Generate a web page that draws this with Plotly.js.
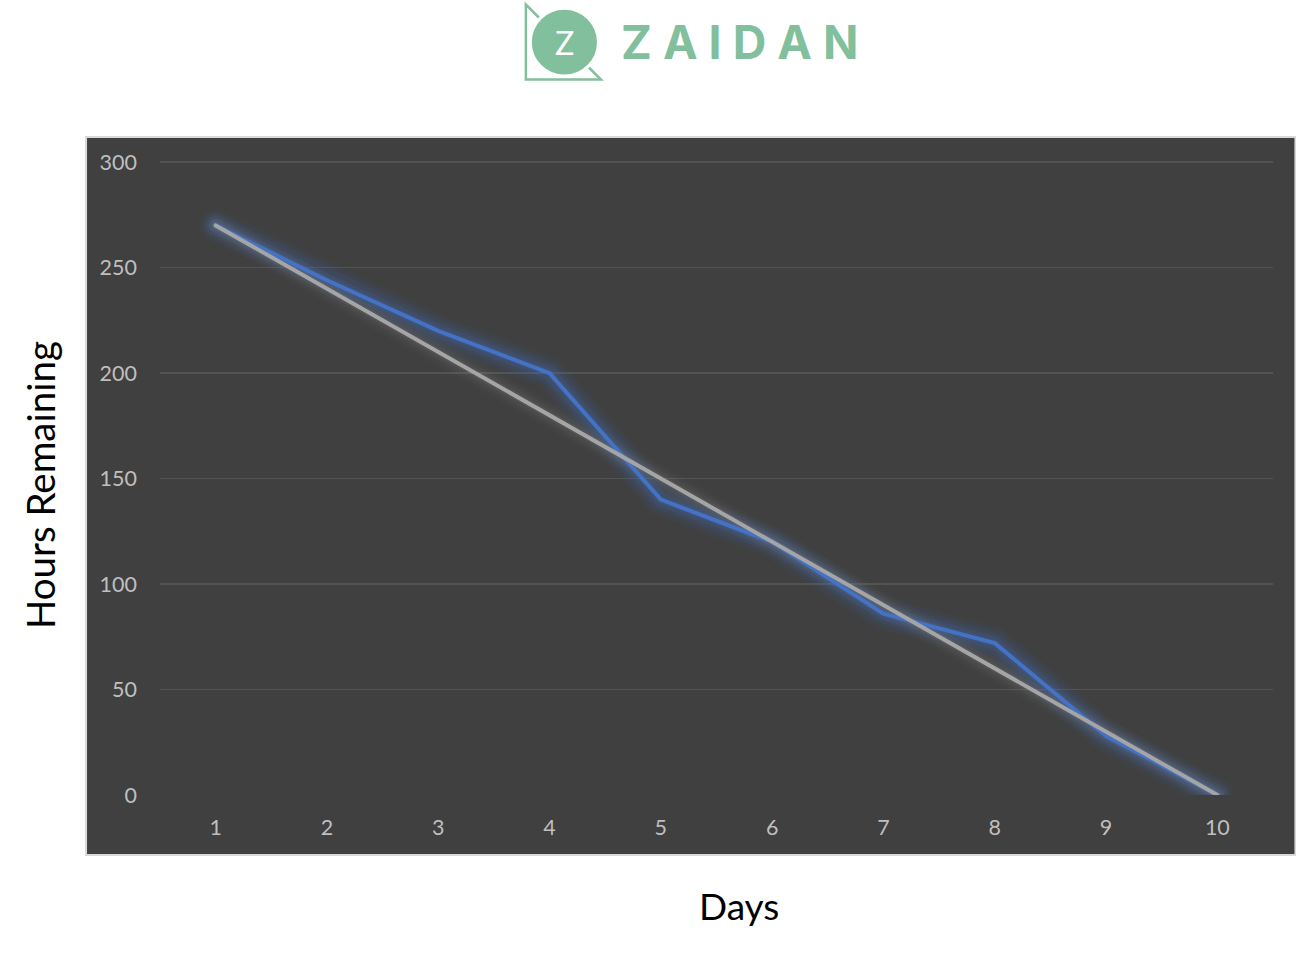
<!DOCTYPE html>
<html>
<head>
<meta charset="utf-8">
<script src="https://cdn.plot.ly/plotly-3.0.1.min.js"></script>
<style>html,body{margin:0;padding:0;background:#fff}#chart{width:1296px;height:956px}</style>
</head>
<body>
<div id="chart"></div>
<script>
const days = [1,2,3,4,5,6,7,8,9,10];
const actualHours = [270,244,220,200,140,120,86,72,28,0];
const idealHours = [270,240,210,180,150,120,90,60,30,0];
const yTicks = [0,50,100,150,200,250,300];
const xTitle = 'Days';
const yTitle = 'Hours Remaining';
const brand = '<b>Z A I D A N</b>';
const green = '#82BF9C';

const W = 1296, H = 956, L = 160.4, R = 1272.6, B = 795.5;
const unit = 633 / 300;          // pixels per hour
const yMax = 301;                // a little headroom so the 300 gridline is kept
const T = B - yMax * unit;
const px = x => (x - L) / (R - L);
const py = y => (B - y) / (B - T);

function glow(vals, rgb, layers) {
  return layers.map(([w,a]) => ({
    x: days, y: vals, type:'scatter', mode:'lines', showlegend:false, hoverinfo:'skip',
    line:{color:`rgba(${rgb},${a})`, width:w}
  }));
}

const traces = [
  ...glow(actualHours,'68,114,196',[[32,0.05],[26,0.07],[20,0.09],[14,0.12],[8,0.16]]),
  ...glow(idealHours,'165,165,165',[[26,0.025],[20,0.04],[14,0.06],[8,0.09]]),
  {x:days,y:actualHours,type:'scatter',mode:'lines',name:'Actual',line:{color:'#4472C4',width:4}},
  {x:days,y:idealHours,type:'scatter',mode:'lines',name:'Ideal',line:{color:'#A5A5A5',width:4}}
];

const paperShape = (o) => Object.assign({xref:'paper',yref:'paper'},o);
const shapes = [
  paperShape({type:'rect',layer:'below',x0:px(86.5),x1:px(1295),y0:py(855.5),y1:py(137.5),
    fillcolor:'#404040',line:{color:'#D9D9D9',width:2}}),
  paperShape({type:'path',layer:'above',
    path:`M ${px(526)} ${py(5)} L ${px(526)} ${py(80)} L ${px(601)} ${py(80)} Z`,
    fillcolor:'rgba(0,0,0,0)',line:{color:green,width:2.5}}),
  paperShape({type:'circle',layer:'above',x0:px(530.5),x1:px(598.5),y0:py(76.5),y1:py(8.5),
    fillcolor:green,line:{color:'#ffffff',width:3}})
];

const annotations = [
  {text:xTitle,x:px(739),y:py(906),font:{size:37,color:'#000',family:'Lato'}},
  {text:yTitle,x:px(40),y:py(486),textangle:-90,font:{size:38.5,color:'#000',family:'Lato'}},
  {text:'Z',x:px(564.5),y:py(43),font:{size:32,color:'#fff',family:'Lato'}},
  {text:brand,x:px(739),y:py(42),font:{size:46.5,color:green,family:'Inter'}}
].map(a => Object.assign({xref:'paper',yref:'paper',xanchor:'center',yanchor:'middle',showarrow:false},a));

const layout = {
  width:W,height:H,
  paper_bgcolor:'#ffffff',plot_bgcolor:'rgba(0,0,0,0)',
  margin:{l:L,r:W-R,t:T,b:H-B,pad:0},
  showlegend:false,
  font:{family:'Lato',size:21.5,color:'#BFBFBF'},
  xaxis:{type:'linear',range:[0.5,10.5],tickmode:'array',tickvals:days,ticktext:days.map(String),
    showgrid:false,zeroline:false,showline:false,ticks:'',ticklabelstandoff:17,
    tickfont:{family:'Lato',size:21.5,color:'#BFBFBF'}},
  yaxis:{range:[0,yMax],tickmode:'array',tickvals:yTicks,ticktext:yTicks.map(String),
    showgrid:true,gridcolor:'#535353',gridwidth:1.5,zeroline:false,showline:false,ticks:'',ticklabelstandoff:22,
    tickfont:{family:'Lato',size:21.5,color:'#BFBFBF'}},
  shapes,annotations
};
Plotly.newPlot('chart',traces,layout,{displayModeBar:false,staticPlot:true}).then(gd => {
  gd.querySelectorAll('.scatterlayer path.js-line').forEach(p => { p.style.strokeLinecap = 'round'; });
});
</script>
</body>
</html>
